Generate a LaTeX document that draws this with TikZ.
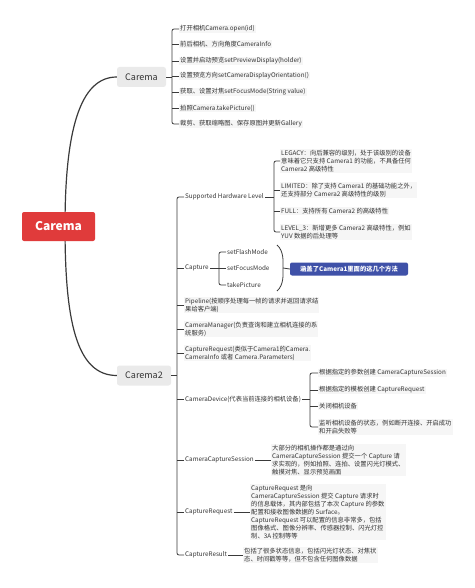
\documentclass[tikz,border=0pt]{standalone}
\usepackage{fontspec}
\setmainfont{Noto Sans CJK SC}
\usetikzlibrary{calc}
\definecolor{txt}{HTML}{333333}
\definecolor{ln}{HTML}{3A3A3A}
\definecolor{rootred}{HTML}{E03B3B}
\definecolor{lvl}{HTML}{EAEAEA}
\definecolor{notebg}{HTML}{3F51A8}
\definecolor{leafbg}{HTML}{F6F6F6}
\begin{document}
\begin{tikzpicture}[x=1pt,y=-1pt,
  leaf/.style={anchor=west, inner sep=1pt, font=\fontsize{6.3}{8}\selectfont, text=txt, align=left, fill=leafbg},
  lvtwo/.style={leaf, fill=none},
  lvone/.style={fill=lvl, rounded corners=2.5pt, text=txt, font=\fontsize{9}{10}\selectfont, minimum height=20pt, inner sep=0pt},
  brk/.style={draw=ln, line width=0.8pt, rounded corners=2pt},
  mainln/.style={draw=ln, line width=1.2pt}]
\useasboundingbox[fill=white] (0,0) rectangle (474,588);

% level one
\node[lvone, minimum width=49pt] (carema) at (141.5,77) {Carema};
\node[lvone, minimum width=54pt] (carema2) at (144,375.5) {Carema2};
\coordinate (rj) at (65,226.5);
\draw[mainln] (rj) .. controls (65,130) and (80,77) .. (carema.west);
\draw[mainln] (rj) .. controls (65,320) and (76,375.5) .. (carema2.west);
\node[fill=rootred, text=white, font=\bfseries\fontsize{12}{14}\selectfont, rounded corners=2pt, minimum width=73pt, minimum height=29pt, inner sep=0pt] (root) at (58.5,226.5) {Carema};

% Carema children
\node[leaf] (c1) at (179,29) {打开相机Camera.open(id)};
\node[leaf] (c2) at (179,44) {前后相机、方向角度CameraInfo};
\node[leaf] (c3) at (179,61) {设置并启动预览setPreviewDisplay(holder)};
\node[leaf] (c4) at (179,76) {设置预览方向setCameraDisplayOrientation()};
\node[leaf] (c5) at (179,92) {获取、设置对焦setFocusMode(String value)};
\node[leaf] (c6) at (179,108) {拍照Camera.takePicture()};
\node[leaf] (c7) at (179,124) {裁剪、获取缩略图、保存原图并更新Gallery};
\coordinate (bc) at (172,77);
\draw[brk] (c1.west) -| (bc) |- (c7.west);
\foreach \n in {c2,c3,c4,c5,c6} \draw[brk] (\n.west) -- (bc |- \n.west);
\draw[brk] (carema.east) -- (bc);

% Carema2 children
\node[lvtwo] (s1) at (184,197) {Supported Hardware Level};
\node[lvtwo] (s2) at (184,268) {Capture};
\node[leaf] (s3) at (184,305) {Pipeline(按顺序处理每一帧的请求并返回请求结\\果给客户端)};
\node[leaf] (s4) at (184,329) {CameraManager(负责查询和建立相机连接的系\\统服务)};
\node[leaf] (s5) at (184,353) {CaptureRequest(类似于Camera1的Camera.\\CameraInfo 或者 Camera.Parameters)};
\node[lvtwo] (s6) at (184,399) {CameraDevice(代表当前连接的相机设备)};
\node[lvtwo] (s7) at (184,460) {CameraCaptureSession};
\node[lvtwo] (s8) at (184,512) {CaptureRequest};
\node[lvtwo] (s9) at (184,555) {CaptureResult};
\coordinate (b2) at (177,375.5);
\draw[brk] (s1.west) -| (b2) |- (s9.west);
\foreach \n in {s2,s3,s4,s5,s6,s7,s8} \draw[brk] (\n.west) -- (b2 |- \n.west);
\draw[brk] (carema2.east) -- (b2);

% Supported Hardware Level children
\node[leaf] (h1) at (280,161) {LEGACY：向后兼容的级别，处于该级别的设备\\意味着它只支持 Camera1 的功能，不具备任何\\Camera2 高级特性};
\node[leaf] (h2) at (280,190) {LIMITED：除了支持 Camera1 的基础功能之外，\\还支持部分 Camera2 高级特性的级别};
\node[leaf] (h3) at (280,211) {FULL：支持所有 Camera2 的高级特性};
\node[leaf] (h4) at (280,232) {LEVEL\_3：新增更多 Camera2 高级特性，例如\\YUV 数据的后处理等};
\coordinate (b3) at (274,197);
\draw[brk] (h1.west) -| (b3) |- (h4.west);
\foreach \n in {h2,h3} \draw[brk] (\n.west) -- (b3 |- \n.west);
\draw[brk] (s1.east) -- (b3);

% Capture children
\node[lvtwo] (p1) at (226,252) {setFlashMode};
\node[lvtwo] (p2) at (226,268) {setFocusMode};
\node[lvtwo] (p3) at (226,285) {takePicture};
\coordinate (b4) at (219,268);
\draw[brk] (p1.west) -| (b4) |- (p3.west);
\draw[brk] (p2.west) -- (b4 |- p2.west);
\draw[brk] (s2.east) -- (b4);

% summary parenthesis and note
\coordinate (pm) at (283,268);
\draw[brk] (277,245) .. controls (284,251) and (283,262) .. (pm) .. controls (283,274) and (284,285) .. (277,291);
\node[fill=notebg, text=white, font=\bfseries\fontsize{6.3}{8}\selectfont, rounded corners=2pt, minimum height=13pt, minimum width=118pt, inner sep=0pt] (nt) at (349,269) {涵盖了Camera1里面的这几个方法};
\draw[brk] (pm) -- (nt.west);

% CameraDevice children
\node[leaf] (d1) at (318,373) {根据指定的参数创建 CameraCaptureSession};
\node[leaf] (d2) at (318,390) {根据指定的模板创建 CaptureRequest};
\node[leaf] (d3) at (318,406) {关闭相机设备};
\node[leaf] (d4) at (318,427) {监听相机设备的状态，例如断开连接、开启成功\\和开启失败等};
\coordinate (b5) at (310,399);
\draw[brk] (d1.west) -| (b5) |- (d4.west);
\foreach \n in {d2,d3} \draw[brk] (\n.west) -- (b5 |- \n.west);
\draw[brk] (s6.east) -- (b5);

% descriptions
\node[leaf] (e1) at (271,460) {大部分的相机操作都是通过向\\CameraCaptureSession 提交一个 Capture 请\\求实现的，例如拍照、连拍、设置闪光灯模式、\\触摸对焦、显示预览画面};
\node[leaf] (f1) at (250,512) {CaptureRequest 是向\\CameraCaptureSession 提交 Capture 请求时\\的信息载体，其内部包括了本次 Capture 的参数\\配置和接收图像数据的 Surface。\\CaptureRequest 可以配置的信息非常多，包括\\图像格式、图像分辨率、传感器控制、闪光灯控\\制、3A 控制等等};
\node[leaf] (g1) at (243,555) {包括了很多状态信息，包括闪光灯状态、对焦状\\态、时间戳等等，但不包含任何图像数据};
\draw[brk] (s7.east) -- (e1.west);
\draw[brk] (s8.east) -- (f1.west);
\draw[brk] (s9.east) -- (g1.west);
\end{tikzpicture}
\end{document}
